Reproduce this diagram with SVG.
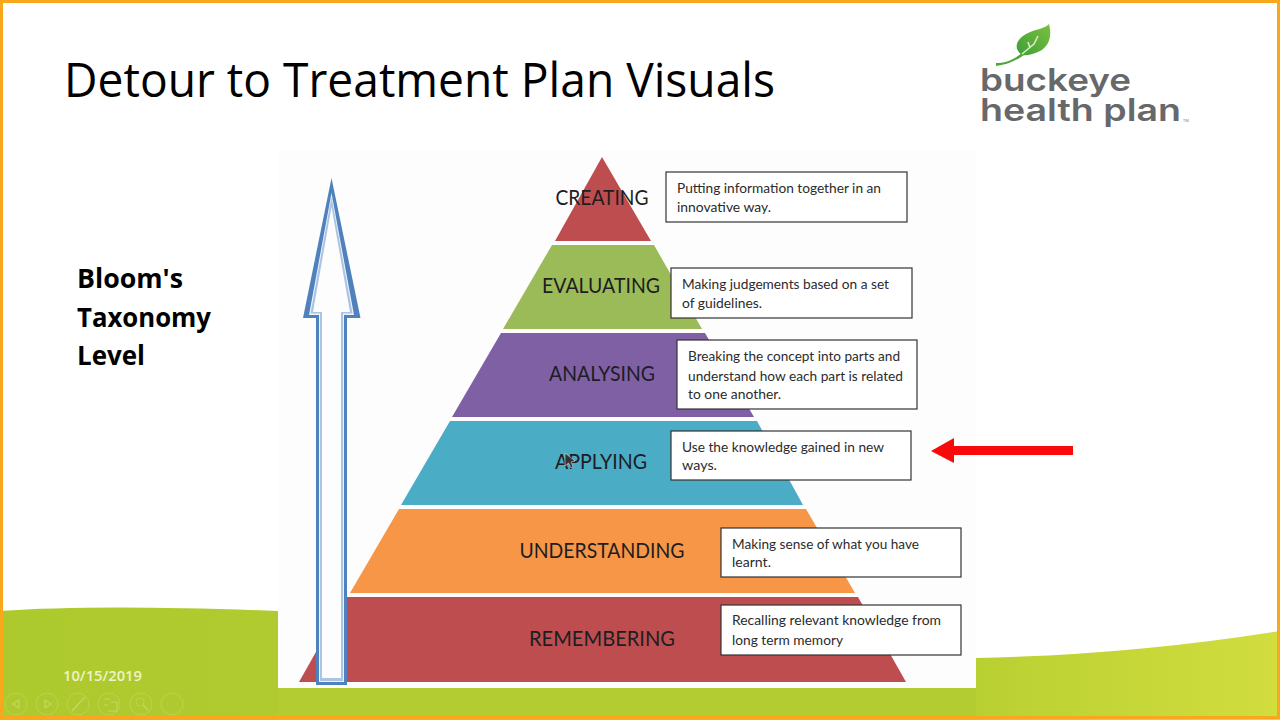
<svg xmlns="http://www.w3.org/2000/svg" width="1280" height="720" viewBox="0 0 1280 720">
<style>
.band{stroke:none}
.lbl{font-family:"Lato","Open Sans",sans-serif;font-size:22px;fill:#1d1d22;text-anchor:middle}
.box rect{fill:#fff;stroke:#333;stroke-width:1.2}
.box text{font-family:"Lato","Open Sans",sans-serif;font-size:14px;fill:#2b2b2b}
.side{font-family:"Open Sans",sans-serif;font-size:26px;font-weight:700;fill:#000}
.nav circle{fill:none;stroke:#d5e08f;stroke-width:.8;opacity:.45}
.nav path{fill:none;stroke:#d5e08f;stroke-width:1.2;opacity:.6}
.logo{font-family:"Inter","Open Sans",sans-serif;font-weight:600;fill:#67686a}
</style>
<defs>
<linearGradient id="gl" x1="0" x2="1" y1="0" y2="0"><stop offset="0" stop-color="#acc92e"/><stop offset="1" stop-color="#b0cb30"/></linearGradient>
<linearGradient id="gr" x1="0" x2="1" y1="0" y2="0"><stop offset="0" stop-color="#b9d032"/><stop offset="1" stop-color="#d2dd3e"/></linearGradient>
<linearGradient id="leaf" x1="0" x2="1" y1="1" y2="0"><stop offset="0" stop-color="#3f9e36"/><stop offset="1" stop-color="#7cc142"/></linearGradient>
</defs>
<rect width="1280" height="720" fill="#fff"/>
<g id="footer">
<path d="M0 611Q100 604 278 611V720H0Z" fill="url(#gl)"/>
<path d="M976 658Q1130 655 1280 631V720H976Z" fill="url(#gr)"/>
<rect x="278" y="686" width="698" height="34" fill="#b3cc31"/>
</g>
<rect x="278" y="150" width="698" height="538" fill="#fdfdfe"/>
<rect x="1.500" y="1.500" width="1277" height="716" fill="none" stroke="#f9a71c" stroke-width="3"/>
<text x="64" y="97" font-family="'Open Sans',sans-serif" font-size="47" fill="#000" textLength="711" lengthAdjust="spacingAndGlyphs">Detour to Treatment Plan Visuals</text>
<g id="logo">
<path d="M1022 55C1012 48 1017 38 1028 33C1036 29 1044 29 1049 24C1052 34 1050 46 1040 51C1034 54 1027 56 1022 55Z" fill="url(#leaf)"/>
<path d="M996 66V63C1005 63 1013 60 1022 53L1024 55C1014 62 1005 65 996 66Z" fill="#4fa53a"/>
<path d="M1022 54L1034 44L1038 36M1030 48L1028 42" stroke="#dcefc8" stroke-width="1.500" fill="none"/>
<text class="logo" x="980" y="91" font-size="31" textLength="151" lengthAdjust="spacingAndGlyphs">buckeye</text>
<text class="logo" x="980" y="121" font-size="31" textLength="201" lengthAdjust="spacingAndGlyphs">health plan</text>
<text x="1183" y="122" font-family="'Open Sans',sans-serif" font-size="4" fill="#777">TM</text>
</g>
<g id="bloom-label">
<text class="side" x="77" y="288" textLength="106" lengthAdjust="spacingAndGlyphs">Bloom's</text>
<text class="side" x="77" y="327" textLength="134" lengthAdjust="spacingAndGlyphs">Taxonomy</text>
<text class="side" x="77" y="365" textLength="68" lengthAdjust="spacingAndGlyphs">Level</text>
</g>
<g id="date"><text x="63" y="681" font-family="'Open Sans',sans-serif" font-size="14" font-weight="600" fill="#eef3c8" textLength="79" lengthAdjust="spacingAndGlyphs">10/15/2019</text></g>
<g id="level-creating">
<polygon class="band" points="602,157 651,241 555,241" fill="#bd4d4f"/>
<text class="lbl" x="602" y="205" textLength="93" lengthAdjust="spacingAndGlyphs">CREATING</text>
<g class="box"><rect x="666" y="172" width="241" height="50"/>
<text x="677" y="193" textLength="204" lengthAdjust="spacingAndGlyphs">Putting information together in an</text><text x="677" y="212" textLength="94" lengthAdjust="spacingAndGlyphs">innovative way.</text></g>
</g>
<g id="level-evaluating">
<polygon class="band" points="552,245 654,245 702,329 503,329" fill="#9bbb59"/>
<text class="lbl" x="601" y="293" textLength="118" lengthAdjust="spacingAndGlyphs">EVALUATING</text>
<g class="box"><rect x="671" y="268" width="241" height="50"/>
<text x="682" y="289" textLength="207" lengthAdjust="spacingAndGlyphs">Making judgements based on a set</text><text x="682" y="308" textLength="80" lengthAdjust="spacingAndGlyphs">of guidelines.</text></g>
</g>
<g id="level-analysing">
<polygon class="band" points="501,333 705,333 754,417 452,417" fill="#7f60a5"/>
<text class="lbl" x="602" y="381" textLength="106" lengthAdjust="spacingAndGlyphs">ANALYSING</text>
<g class="box"><rect x="677" y="340" width="240" height="69"/>
<text x="688" y="361" textLength="212" lengthAdjust="spacingAndGlyphs">Breaking the concept into parts and</text><text x="688" y="381" textLength="215" lengthAdjust="spacingAndGlyphs">understand how each part is related</text><text x="688" y="399" textLength="93" lengthAdjust="spacingAndGlyphs">to one another.</text></g>
</g>
<g id="level-applying">
<polygon class="band" points="450,421 757,421 803,505 401,505" fill="#4bacc6"/>
<text class="lbl" x="601" y="469" textLength="92" lengthAdjust="spacingAndGlyphs">APPLYING</text>
<g class="box"><rect x="671" y="431" width="240" height="49"/>
<text x="682" y="452" textLength="202" lengthAdjust="spacingAndGlyphs">Use the knowledge gained in new</text><text x="682" y="470" textLength="35" lengthAdjust="spacingAndGlyphs">ways.</text></g>
</g>
<g id="level-understanding">
<polygon class="band" points="399,509 806,509 855,593 350,593" fill="#f79646"/>
<text class="lbl" x="602" y="558" textLength="165" lengthAdjust="spacingAndGlyphs">UNDERSTANDING</text>
<g class="box"><rect x="721" y="528" width="240" height="49"/>
<text x="732" y="549" textLength="187" lengthAdjust="spacingAndGlyphs">Making sense of what you have</text><text x="732" y="567" textLength="39" lengthAdjust="spacingAndGlyphs">learnt.</text></g>
</g>
<g id="level-remembering">
<polygon class="band" points="347,597 858,597 906,682 299,682" fill="#bd4d4f"/>
<text class="lbl" x="602" y="646" textLength="146" lengthAdjust="spacingAndGlyphs">REMEMBERING</text>
<g class="box"><rect x="721" y="605" width="240" height="50"/>
<text x="732" y="625" textLength="209" lengthAdjust="spacingAndGlyphs">Recalling relevant knowledge from</text><text x="732" y="645" textLength="111" lengthAdjust="spacingAndGlyphs">long term memory</text></g>
</g>
<g id="connectors">
<path id="level-arrow" d="M331.500 178L360.500 318H347V685H316V318H303Z" fill="#4f81bd"/>
<path d="M331.500 193L354 315H344V682H319V315H309Z" fill="#eef3fa"/>
<path d="M331.500 197L352.500 313.500H343V681H320V313.500H310.500Z" fill="#a9c4e4"/>
<path d="M331.500 207L350 312H341V678H322V312H313Z" fill="#fdfdfe"/>
<path id="red-arrow" d="M1073 446V455H954V463L931 451L954 438V446Z" fill="#f80a0a"/>
</g>
<path id="cursor" d="M565 453V466L568.500 463L571 468L573 467L571 462L575 461Z" fill="#333" stroke="#ddd" stroke-width=".6"/>
<g id="slide-controls" class="nav">
<circle cx="16" cy="704" r="11"/><path d="M19 700L13 704L19 708Z"/>
<circle cx="47" cy="704" r="11"/><path d="M45 700L51 704L45 708Z"/>
<circle cx="78" cy="704" r="11"/><path d="M72 711L85 697"/>
<circle cx="109" cy="704" r="11"/><path d="M104 699H110M104 705H108M111 702H117V711H108"/>
<circle cx="141" cy="704" r="11"/><circle cx="140" cy="702" r="4"/><path d="M143 705L148 710"/>
<circle cx="172" cy="704" r="11"/><path d="M167 704H168M172 704H173M177 704H178"/>
</g>
</svg>
